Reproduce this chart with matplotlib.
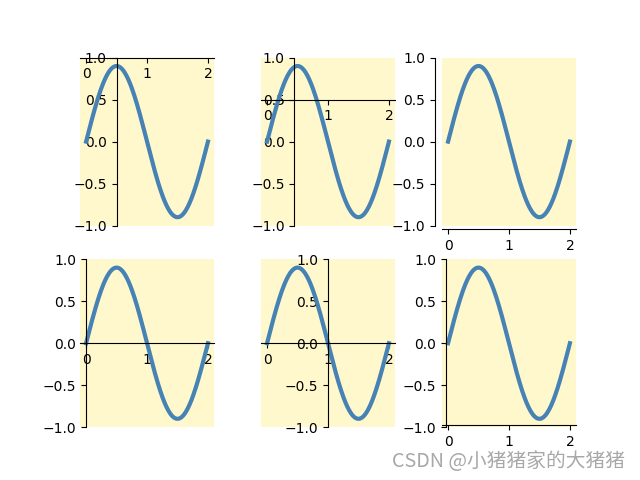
import numpy as np
import matplotlib
matplotlib.use("Agg")
import matplotlib.pyplot as plt

plt.rcParams['font.family'] = ['DejaVu Sans', 'Noto Sans CJK SC']

x_start, x_end = 0.0, 2.0
amplitude = 0.9
n_points = 200
watermark = "CSDN @小猪猪家的大猪猪"

x = np.linspace(x_start, x_end, n_points)
y = amplitude * np.sin(np.pi * x)

fig, axes = plt.subplots(2, 3, figsize=(6.4, 4.8), dpi=100)
fig.subplots_adjust(left=0.125, right=0.9, bottom=0.11, top=0.88, wspace=0.35, hspace=0.2)

# spine placement per subplot: (left position, bottom position)
placements = [
    (('data', 0.5), ('axes', 1.0)),
    (('axes', 0.25), ('axes', 0.75)),
    (('outward', 5), ('outward', 2.5)),
    ('zero', 'zero'),
    ('center', 'center'),
    (('outward', -3), ('outward', -1.5)),
]

for ax, (lp, bp) in zip(axes.flat, placements):
    ax.set_facecolor('#fff8cd')
    ax.plot(x, y, color='steelblue', lw=3)
    ax.set_ylim(-1, 1)
    ax.spines['right'].set_visible(False)
    ax.spines['top'].set_visible(False)
    ax.spines['left'].set_position(lp)
    ax.spines['bottom'].set_position(bp)
    ax.xaxis.set_ticks_position('bottom')
    ax.yaxis.set_ticks_position('left')
    ax.set_yticks([-1.0, -0.5, 0.0, 0.5, 1.0])
    ax.set_xticks([0, 1, 2])

fig.text(0.977, 0.038, watermark, ha='right', va='center', fontsize=14.2,
         color='#a8a8a8', family=['Noto Sans CJK SC', 'DejaVu Sans'])

fig.savefig('out.png', dpi=100)
